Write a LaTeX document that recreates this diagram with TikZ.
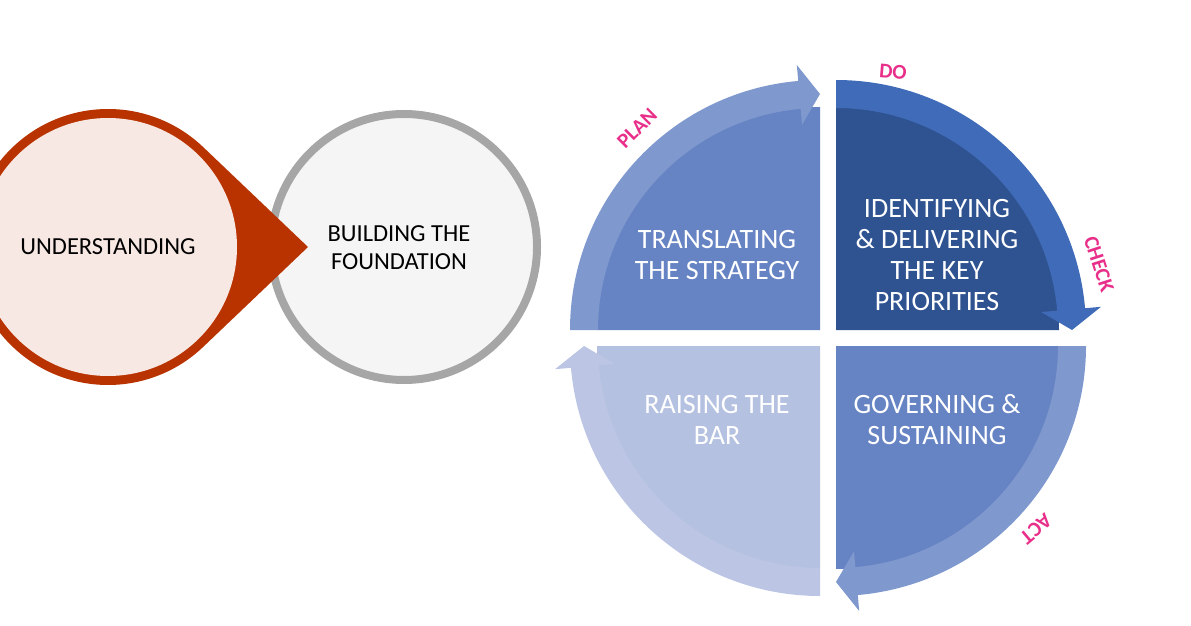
\documentclass[tikz,border=0pt]{standalone}
\usepackage{fontspec}
\setmainfont{Carlito}
\usetikzlibrary{calc}
\definecolor{redc}{HTML}{B83300}
\definecolor{pinkf}{HTML}{F8E8E3}
\definecolor{grayr}{HTML}{A6A6A6}
\definecolor{grayf}{HTML}{F5F5F5}
\definecolor{lab}{HTML}{E8308A}
\definecolor{bandA}{HTML}{7F99CF}
\definecolor{fillA}{HTML}{6683C3}
\definecolor{bandB}{HTML}{3F6BB8}
\definecolor{fillB}{HTML}{2F5291}
\definecolor{bandD}{HTML}{BCC6E4}
\definecolor{fillD}{HTML}{B5C1E0}
\newcommand\qband[4]{% corner, start angle, band colour, fill colour
  \fill[#4] (#1) -- ($(#1)+(#2:223)$) arc[start angle=#2,end angle=#2-90,radius=223] -- cycle;
  \fill[#3] ($(#1)+(#2:250)$) arc[start angle=#2,end angle=#2-85,radius=250]
    -- ($(#1)+(#2-85:266)$) -- ($(#1)+(#2-90:236)$) -- ($(#1)+(#2-85:206)$)
    -- ($(#1)+(#2-85:222)$) arc[start angle=#2-85,end angle=#2,radius=222] -- cycle;
}
\begin{document}
\begin{tikzpicture}[x=1pt,y=1pt,
  qtext/.style={text=white,align=center,font=\fontsize{28}{31}\selectfont},
  ctext/.style={text=black,align=center,font=\fontsize{24.5}{28}\selectfont},
  ltext/.style={text=lab,font=\bfseries\fontsize{21}{22}\selectfont}]
\useasboundingbox (0,0) rectangle (1191,625);
% left circles
\coordinate (cu) at (108,378);
\coordinate (cb) at (404,378);
\coordinate (tip) at (308,378);
\draw[grayr,line width=8,fill=grayf] (cb) circle[radius=133];
\fill[redc] (tip) -- ($(cu)+(46.4:138)$) arc[start angle=46.4,end angle=313.6,radius=138] -- cycle;
\fill[pinkf] (cu) circle[radius=129];
\node[ctext] (u) at (108,378) {UNDERSTANDING};
\node[ctext] (b) at (399,377) {BUILDING THE\\FOUNDATION};
% quadrants
\coordinate (C1) at (820,295);
\coordinate (C2) at (836,295);
\coordinate (C3) at (836,279);
\coordinate (C4) at (820,279);
\qband{C1}{180}{bandA}{fillA}
\qband{C2}{90}{bandB}{fillB}
\qband{C3}{0}{bandA}{fillA}
\qband{C4}{-90}{bandD}{fillD}
\node[qtext] (t1) at (717,370) {TRANSLATING\\THE STRATEGY};
\node[qtext] (t2) at (937,370) {IDENTIFYING\\\& DELIVERING\\THE KEY\\PRIORITIES};
\node[qtext] (t4) at (717,205) {RAISING THE\\BAR};
\node[qtext] (t3) at (937,205) {GOVERNING \&\\SUSTAINING};
\node[ltext,rotate=45] (plan) at (637,497) {PLAN};
\node[ltext,rotate=-5] (do) at (893,553) {DO};
\node[ltext,rotate=-72] (check) at (1099,361) {CHECK};
\node[ltext,rotate=-140] (act) at (1036,96) {ACT};
\end{tikzpicture}
\end{document}
